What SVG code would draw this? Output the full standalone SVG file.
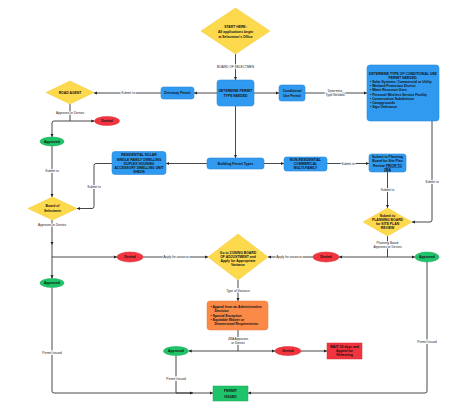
<svg xmlns="http://www.w3.org/2000/svg" width="474" height="410" viewBox="0 0 474 410">
<defs>
<marker id="ah" viewBox="0 0 6 6" refX="6" refY="3" markerWidth="3.2" markerHeight="3.2" markerUnits="userSpaceOnUse" orient="auto">
<path d="M0,0 L6,3 L0,6 z" fill="#222"/>
</marker>
<style>
.bx{fill:#2f9af0;stroke:#2b8ad8;stroke-width:0.6}
.dm{fill:#fdd94d;stroke:#f2c936;stroke-width:0.5}
.gr{fill:#1fc46a;stroke:#18a85a;stroke-width:0.5}
.rd{fill:#f2343f;stroke:#d92a33;stroke-width:0.5}
.or{fill:#fb8a48;stroke:#e97a3a;stroke-width:0.5}
.t{font-family:"Liberation Sans",Arial,sans-serif;font-weight:bold;fill:#111;text-anchor:middle;dominant-baseline:central;font-size:3.4px}
.tl{text-anchor:start}
.lb{font-family:"Liberation Sans",Arial,sans-serif;fill:#222;text-anchor:middle;dominant-baseline:central;font-size:3.2px;stroke:#fff;stroke-width:1.6;paint-order:stroke}
.c{fill:none;stroke:#333;stroke-width:0.9;stroke-linejoin:round}
.a{marker-end:url(#ah)}
</style>
</defs>
<rect width="474" height="410" fill="#fff"/>

<g id="connectors">
<path class="c a" d="M235.5,54 V80"/>
<path class="c a" d="M217,93 H194"/>
<path class="c a" d="M254,93 H279"/>
<path class="c a" d="M305,93 H367"/>
<path class="c a" d="M432,121 V220 Q432,222 430,222 H412"/>
<path class="c a" d="M235.5,106 V158"/>
<path class="c a" d="M264,163.5 H284"/>
<path class="c a" d="M327,163.5 H369"/>
<path class="c a" d="M387.5,172 V208"/>
<path class="c" d="M387.5,236 V257"/>
<path class="c a" d="M387.5,257 H339"/>
<path class="c a" d="M387.5,257 H415"/>
<path class="c a" d="M313,257 H268"/>
<path class="c a" d="M143,257 H208"/>
<path class="c a" d="M238,280 V301"/>
<path class="c" d="M238,330 V351"/>
<path class="c a" d="M238,351 H188.5"/>
<path class="c a" d="M238,351 H275"/>
<path class="c a" d="M301,351 H327"/>
<path class="c a" d="M176,355.5 V393 H213"/>
<path class="c a" d="M427,262 V391 Q427,393 425,393 H248"/>
<path class="c a" d="M161,93 H94"/>
<path class="c" d="M70,104 V121"/>
<path class="c a" d="M70,121 H94.5"/>
<path class="c a" d="M70,121 H54 Q52,121 52,123 V137"/>
<path class="c a" d="M52,146 V197"/>
<path class="c a" d="M207,163.5 H166"/>
<path class="c a" d="M112,163.5 H96 Q94,163.5 94,165.5 V206.5 Q94,208.5 92,208.5 H77"/>
<path class="c a" d="M52,220 V245"/>
<path class="c a" d="M52,245 V278.5"/>
<path class="c a" d="M52,257 H117"/>
<path class="c a" d="M52,287.5 V391 Q52,393 54,393 H193"/>
<text class="lb" x="235.5" y="67">BOARD OF SELECTMEN</text>
<text class="lb" x="335" y="90.8">Determine</text>
<text class="lb" x="335" y="95.3">Type Needed</text>
<text class="lb" x="432" y="182">Submit to</text>
<text class="lb" x="348" y="163.5">Submit to</text>
<text class="lb" x="387.5" y="190">Submit to</text>
<text class="lb" x="387.5" y="242.5">Planning Board</text>
<text class="lb" x="387.5" y="247">Approves or Denies</text>
<text class="lb" x="289" y="257">Apply for variance</text>
<text class="lb" x="176" y="257">Apply for variance</text>
<text class="lb" x="238" y="291">Type of Variance</text>
<text class="lb" x="238" y="338.5">ZBA Approves</text>
<text class="lb" x="238" y="343">or Denies</text>
<text class="lb" x="176" y="379">Permit Issued</text>
<text class="lb" x="427" y="342">Permit Issued</text>
<text class="lb" x="128" y="93">Submit to</text>
<text class="lb" x="70" y="113">Approves or Denies</text>
<text class="lb" x="52" y="171">Submit to</text>
<text class="lb" x="94" y="187">Submit to</text>
<text class="lb" x="52" y="224.5">Approves or Denies</text>
<text class="lb" x="52" y="353">Permit Issued</text>
</g>

<g id="start">
<polygon class="dm" points="235.5,8 270,31 235.5,54 201,31"/>
<text class="t" x="235.5" y="26.5" font-size="5.4">START HERE:</text>
<text class="t" x="235.5" y="32" font-size="4.1">All applications begin</text>
<text class="t" x="235.5" y="37" font-size="4.1">at Selectman's Office</text>
</g>

<g id="determine">
<rect class="bx" x="217" y="80" width="37" height="26" rx="3"/>
<text class="t" x="235.5" y="90.5" font-size="3.6">DETERMINE PERMIT</text>
<text class="t" x="235.5" y="95.5" font-size="3.6">TYPE NEEDED</text>
</g>

<g id="driveway">
<rect class="bx" x="161" y="87" width="33" height="12" rx="2.5"/>
<text class="t" x="177.5" y="93">Driveway Permit</text>
</g>

<g id="conditional">
<rect class="bx" x="279" y="85" width="26" height="16" rx="2.5"/>
<text class="t" x="292" y="91">Conditional</text>
<text class="t" x="292" y="95.5">Use Permit</text>
</g>

<g id="cu-types">
<rect class="bx" x="367" y="65" width="72" height="56" rx="3"/>
<text class="t" x="403" y="73.5" font-size="3">DETERMINE TYPE OF CONDITIONAL USE</text>
<text class="t" x="403" y="77.6" font-size="3">PERMIT NEEDED:</text>
<g class="t tl" font-size="3.1">
<text class="t tl" x="370" y="82">•  Solar Systems: Commercial or Utility</text>
<text class="t tl" x="370" y="86.2">•  Wetland Protection District</text>
<text class="t tl" x="370" y="90.4">•  Water Resource Uses</text>
<text class="t tl" x="370" y="94.7">•  Personal Wireless Service Facility</text>
<text class="t tl" x="370" y="98.9">•  Conservation Subdivision</text>
<text class="t tl" x="370" y="103.1">•  Campgrounds</text>
<text class="t tl" x="370" y="107.3">•  Sign Ordinance</text>
</g>
</g>

<g id="building">
<rect class="bx" x="207" y="158" width="57" height="11" rx="2.5"/>
<text class="t" x="235.5" y="163.5">Building Permit Types</text>
</g>

<g id="nonres">
<rect class="bx" x="284" y="157" width="43" height="14" rx="2.5"/>
<text class="t" x="305.5" y="159.6" font-size="3.2">NON-RESIDENTIAL</text>
<text class="t" x="305.5" y="163.6" font-size="3.2">COMMERICAL</text>
<text class="t" x="305.5" y="167.8" font-size="3.2">MULTI-FAMILY</text>
</g>

<g id="submit-planning">
<rect class="bx" x="369" y="154" width="37" height="18" rx="2.5"/>
<text class="t" x="387.5" y="157.3" font-size="3.2">Submit to Planning</text>
<text class="t" x="387.5" y="161.4" font-size="3.2">Board for Site Plan</text>
<text class="t" x="387.5" y="165.5" font-size="3.2">Review <tspan text-decoration="underline">PRIOR TO</tspan></text>
<text class="t" x="387.5" y="169.5" font-size="3.2" text-decoration="underline">ZBA</text>
</g>

<g id="planning-board">
<polygon class="dm" points="387.5,208 412,222 387.5,236 363,222"/>
<text class="t" x="387.5" y="216" font-size="3.2">Submit to</text>
<text class="t" x="387.5" y="220" font-size="3.2">PLANNING BOARD</text>
<text class="t" x="387.5" y="224" font-size="3.2">for SITE PLAN</text>
<text class="t" x="387.5" y="228" font-size="3.2">REVIEW</text>
</g>

<g id="denied-pb">
<ellipse class="rd" cx="326" cy="257" rx="13" ry="5"/>
<text class="t" x="326" y="257">Denied</text>
</g>

<g id="approved-pb">
<ellipse class="gr" cx="427" cy="257" rx="12" ry="5"/>
<text class="t" x="427" y="257">Approved</text>
</g>

<g id="zba">
<polygon class="dm" points="238,234 268,257 238,280 208,257"/>
<text class="t" x="238" y="252.8" font-size="3.3">Go to ZONING BOARD</text>
<text class="t" x="238" y="257" font-size="3.3">OF ADJUSTMENT and</text>
<text class="t" x="238" y="261.2" font-size="3.3">Apply for Appropriate</text>
<text class="t" x="238" y="265.3" font-size="3.3">Variance</text>
</g>

<g id="denied-bos">
<ellipse class="rd" cx="130" cy="257" rx="13" ry="5"/>
<text class="t" x="130" y="257">Denied</text>
</g>

<g id="variance-types">
<rect class="or" x="207" y="301" width="61" height="29" rx="3"/>
<text class="t tl" x="210.5" y="307" font-size="3.3">•  Appeal from an Administrative</text>
<text class="t tl" x="214.5" y="311.2" font-size="3.3">Decision</text>
<text class="t tl" x="210.5" y="315.6" font-size="3.3">•  Special Exception</text>
<text class="t tl" x="210.5" y="319.9" font-size="3.3">•  Equitable Waiver or</text>
<text class="t tl" x="214.5" y="324.2" font-size="3.3">Dimensional Requirements</text>
</g>

<g id="approved-zba">
<ellipse class="gr" cx="176" cy="351" rx="12.5" ry="4.5"/>
<text class="t" x="176" y="351">Approved</text>
</g>

<g id="denied-zba">
<ellipse class="rd" cx="288" cy="351" rx="13" ry="4.5"/>
<text class="t" x="288" y="351">Denied</text>
</g>

<g id="wait">
<rect x="327" y="343" width="35" height="16" fill="#f2343f" stroke="#d92a33" stroke-width="0.5"/>
<text class="t" x="344.5" y="346.6" font-size="3.2">WAIT 30 days and</text>
<text class="t" x="344.5" y="350.7" font-size="3.2">Appeal for</text>
<text class="t" x="344.5" y="354.7" font-size="3.2">Rehearing</text>
</g>

<g id="permit-issued">
<rect x="213" y="386" width="35" height="15" fill="#1fc46a" stroke="#18a85a" stroke-width="0.5"/>
<text class="t" x="230.5" y="390.6" font-size="4.3">PERMIT</text>
<text class="t" x="230.5" y="396.6" font-size="4.3">ISSUED</text>
</g>

<g id="road-agent">
<polygon class="dm" points="70,81 94,92.5 70,104 46,92.5"/>
<text class="t" x="70" y="92.5">ROAD AGENT</text>
</g>

<g id="denied-ra">
<ellipse class="rd" cx="107" cy="121" rx="12.5" ry="4.5"/>
<text class="t" x="107" y="121">Denied</text>
</g>

<g id="approved-ra">
<ellipse class="gr" cx="52" cy="141.5" rx="12" ry="4.5"/>
<text class="t" x="52" y="141.5">Approved</text>
</g>

<g id="residential">
<rect class="bx" x="112" y="151.5" width="54" height="23" rx="3"/>
<text class="t" x="139" y="155.3" font-size="3.3">RESIDENTIAL SOLAR</text>
<text class="t" x="139" y="159.6" font-size="3.3">SINGLE FAMILY DWELLING</text>
<text class="t" x="139" y="163.9" font-size="3.3">DUPLEX HOUSING</text>
<text class="t" x="139" y="168.2" font-size="3.3">ACCESSORY DWELLING UNIT</text>
<text class="t" x="139" y="172.4" font-size="3.3">SHEDS</text>
</g>

<g id="board-selectmen">
<polygon class="dm" points="52.5,197 77,208.5 52.5,220 28,208.5"/>
<text class="t" x="52.5" y="206.4">Board of</text>
<text class="t" x="52.5" y="210.6">Selectmen</text>
</g>

<g id="approved-bos">
<ellipse class="gr" cx="52" cy="283" rx="12" ry="4.5"/>
<text class="t" x="52" y="283">Approved</text>
</g>
</svg>
